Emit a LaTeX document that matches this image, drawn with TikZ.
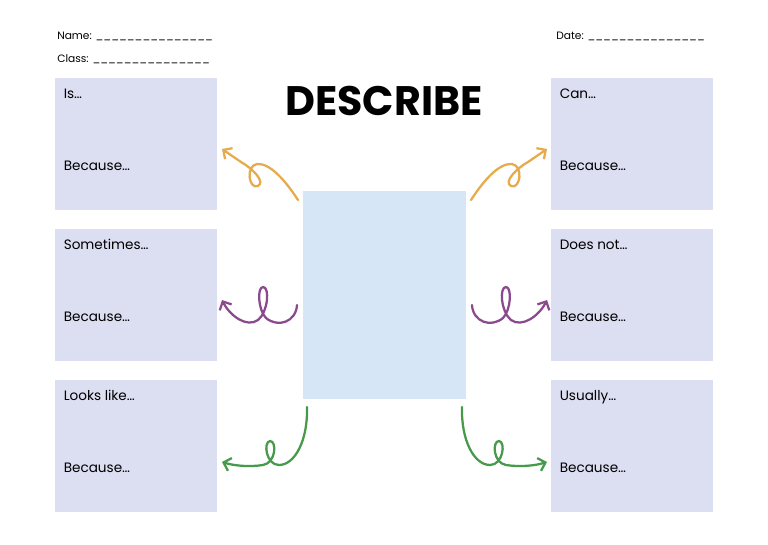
\documentclass[tikz,border=0pt]{standalone}
\usepackage{fontspec}
\setmainfont{Poppins}
\usepackage{graphicx}
\usetikzlibrary{arrows.meta,positioning,calc}
\definecolor{boxfill}{HTML}{DCDEF1}
\definecolor{midfill}{HTML}{D7E6F6}
\definecolor{curlorange}{HTML}{E6AB4C}
\definecolor{curlpurple}{HTML}{8C4A8E}
\definecolor{curlgreen}{HTML}{469A4A}
\newcommand{\blank}{\_\_\_\_\_\_\_\_\_\_\_\_\_\_\_}

\begin{document}
\begin{tikzpicture}[x=0.75pt, y=-0.75pt,
  card/.style={fill=boxfill, minimum width=121.5pt, minimum height=99pt, inner sep=0pt, anchor=north west},
  lbl/.style={font=\fontsize{10.2}{12}\selectfont, anchor=base west, inner sep=0pt},
  head/.style={font=\fontsize{8}{10}\selectfont, anchor=base west, inner sep=0pt},
  curl/.style={line width=1.7pt, line cap=round, line join=round, -{Straight Barb[length=5pt,width=10pt]}}]
\useasboundingbox (0,0) rectangle (768,544);
\fill[white] (0,0) rectangle (768,544);

% header
\node[head] (name) at (57,39) {Name: \blank};
\node[head] (class) at (57,62) {Class: \blank};
\node[head] (date) at (556,39) {Date: \blank};
\node[inner sep=0pt] (title) at (384,101) {\resizebox{148pt}{!}{\bfseries DESCRIBE}};

% middle picture frame
\node[fill=midfill, minimum width=122.25pt, minimum height=156pt, inner sep=0pt, anchor=north west] (mid) at (303,191) {};

% the six cards
\foreach \nm/\x/\y/\txt in {is/55/78/Is…, some/55/229/Sometimes…, looks/55/380/Looks like…,
                            can/551/78/Can…, doesnot/551/229/Does not…, usually/551/380/Usually…} {
  \node[card] (\nm) at (\x,\y) {};
  \node[lbl] (\nm-top) at ($(\nm.north west)+(8.5,20)$) {\txt};
  \node[lbl] (\nm-why) at ($(\nm.north west)+(8.5,92)$) {Because…};
}

% curly arrows, left side then mirrored to the right
\foreach \side/\sh in {1/0, -1/576.75} {
  \begin{scope}[xshift=\sh pt, xscale=\side]
    \draw[curl, curlorange] (298,200) .. controls (285,180) and (270,163) .. (257,164)
      .. controls (245,166) and (249,190) .. (258,186) .. controls (266,182) and (252,168) .. (241,162) -- (222,149);
    \draw[curl, curlpurple] (297,305) .. controls (296,322) and (278,328) .. (266,318)
      .. controls (258,310) and (257,287) .. (263,287) .. controls (270,287) and (268,312) .. (258,320)
      .. controls (247,328) and (230,316) .. (222,300);
    \draw[curl, curlgreen] (307,407) .. controls (308,440) and (295,465) .. (279,465)
      .. controls (266,465) and (263,442) .. (270,441) .. controls (277,441) and (276,463) .. (263,465)
      .. controls (250,467) and (235,466) .. (222,462);
  \end{scope}
}
\end{tikzpicture}
\end{document}
